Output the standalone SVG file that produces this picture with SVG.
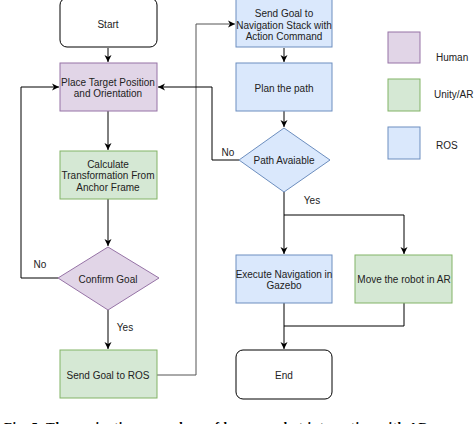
<svg xmlns="http://www.w3.org/2000/svg" width="474" height="424" viewBox="0 0 474 424">
<style>
text{font-family:"Liberation Sans",Arial,sans-serif;font-size:10px;fill:#222;text-anchor:middle;dominant-baseline:central}
.h{fill:#e1d5e7;stroke:#9673a6;stroke-width:1}
.u{fill:#d5e8d4;stroke:#82b366;stroke-width:1}
.r{fill:#dae8fc;stroke:#6c8ebf;stroke-width:1}
.t{fill:#fff;stroke:#000;stroke-width:1}
.c{fill:none;stroke:#000;stroke-width:1}
.lg{text-anchor:start}
</style>
<defs>
<marker id="a" markerWidth="8" markerHeight="8" refX="7" refY="4" orient="auto" markerUnits="userSpaceOnUse">
<path d="M0,0.5 L7,4 L0,7.5 L2,4 Z" fill="#000"/>
</marker>
</defs>
<rect width="474" height="424" fill="#fff"/>
<g id="connectors">
<path class="c" d="M108,48 V62" marker-end="url(#a)"/>
<path class="c" d="M108,111 V150" marker-end="url(#a)"/>
<path class="c" d="M108,199 V246" marker-end="url(#a)"/>
<path class="c" d="M58,278 H21 V87 H59" marker-end="url(#a)"/>
<path class="c" d="M108,310 V349" marker-end="url(#a)"/>
<path class="c" style="stroke:#555" d="M157,375 H196 V24 H235" marker-end="url(#a)"/>
<path class="c" d="M284,48 V62" marker-end="url(#a)"/>
<path class="c" d="M284,111 V127" marker-end="url(#a)"/>
<path class="c" d="M239,160 H212 V87 H158" marker-end="url(#a)"/>
<path class="c" d="M284,192 V254" marker-end="url(#a)"/>
<path class="c" d="M284,215 H404 V254" marker-end="url(#a)"/>
<path class="c" d="M284,303 V349" marker-end="url(#a)"/>
<path class="c" d="M404,303 V326 H284"/>
<text x="40" y="264">No</text>
<text x="125" y="327">Yes</text>
<text x="228" y="152">No</text>
<text x="312" y="200">Yes</text>
</g>
<g id="start"><rect class="t" x="60" y="-2" width="97" height="49" rx="7"/><text x="108" y="24">Start</text></g>
<g id="place"><rect class="h" x="60" y="63" width="97" height="48"/><text x="108" y="82">Place Target Position</text><text x="108" y="93">and Orientation</text></g>
<g id="calc"><rect class="u" x="60" y="151" width="97" height="48"/><text x="108" y="164">Calculate</text><text x="108" y="175">Transformation From</text><text x="108" y="187">Anchor Frame</text></g>
<g id="confirm"><path class="h" d="M108,247 L159,278 L108,310 L58,278 Z"/><text x="108" y="279">Confirm Goal</text></g>
<g id="sendros"><rect class="u" x="60" y="350" width="97" height="48"/><text x="108" y="375">Send Goal to ROS</text></g>
<g id="sendnav"><rect class="r" x="236" y="-1" width="96" height="48"/><text x="284" y="13">Send Goal to</text><text x="284" y="25">Navigation Stack with</text><text x="284" y="36">Action Command</text></g>
<g id="plan"><rect class="r" x="236" y="63" width="96" height="48"/><text x="284" y="88">Plan the path</text></g>
<g id="avail"><path class="r" d="M284,128 L330,160 L284,192 L239,160 Z"/><text x="284" y="160">Path Avaiable</text></g>
<g id="exec"><rect class="r" x="236" y="255" width="96" height="48"/><text x="284" y="274">Execute Navigation in</text><text x="284" y="285">Gazebo</text></g>
<g id="move"><rect class="u" x="355" y="255" width="97" height="48"/><text x="404" y="279">Move the robot in AR</text></g>
<g id="end"><rect class="t" x="236" y="350" width="96" height="49" rx="7"/><text x="284" y="375">End</text></g>
<g id="legend">
<rect class="h" x="388" y="32" width="32" height="31"/><text class="lg" x="436" y="57">Human</text>
<rect class="u" x="388" y="79" width="32" height="32"/><text class="lg" x="434" y="94">Unity/AR</text>
<rect class="r" x="388" y="127" width="32" height="32"/><text class="lg" x="436" y="145">ROS</text>
</g>
<text x="4" y="431" style="font-family:'Liberation Serif',serif;font-size:13px;font-weight:bold;text-anchor:start;fill:#000;dominant-baseline:auto;letter-spacing:0.6px">Fig. 5.  The navigation procedure of human-robot interaction with AR</text>
</svg>
